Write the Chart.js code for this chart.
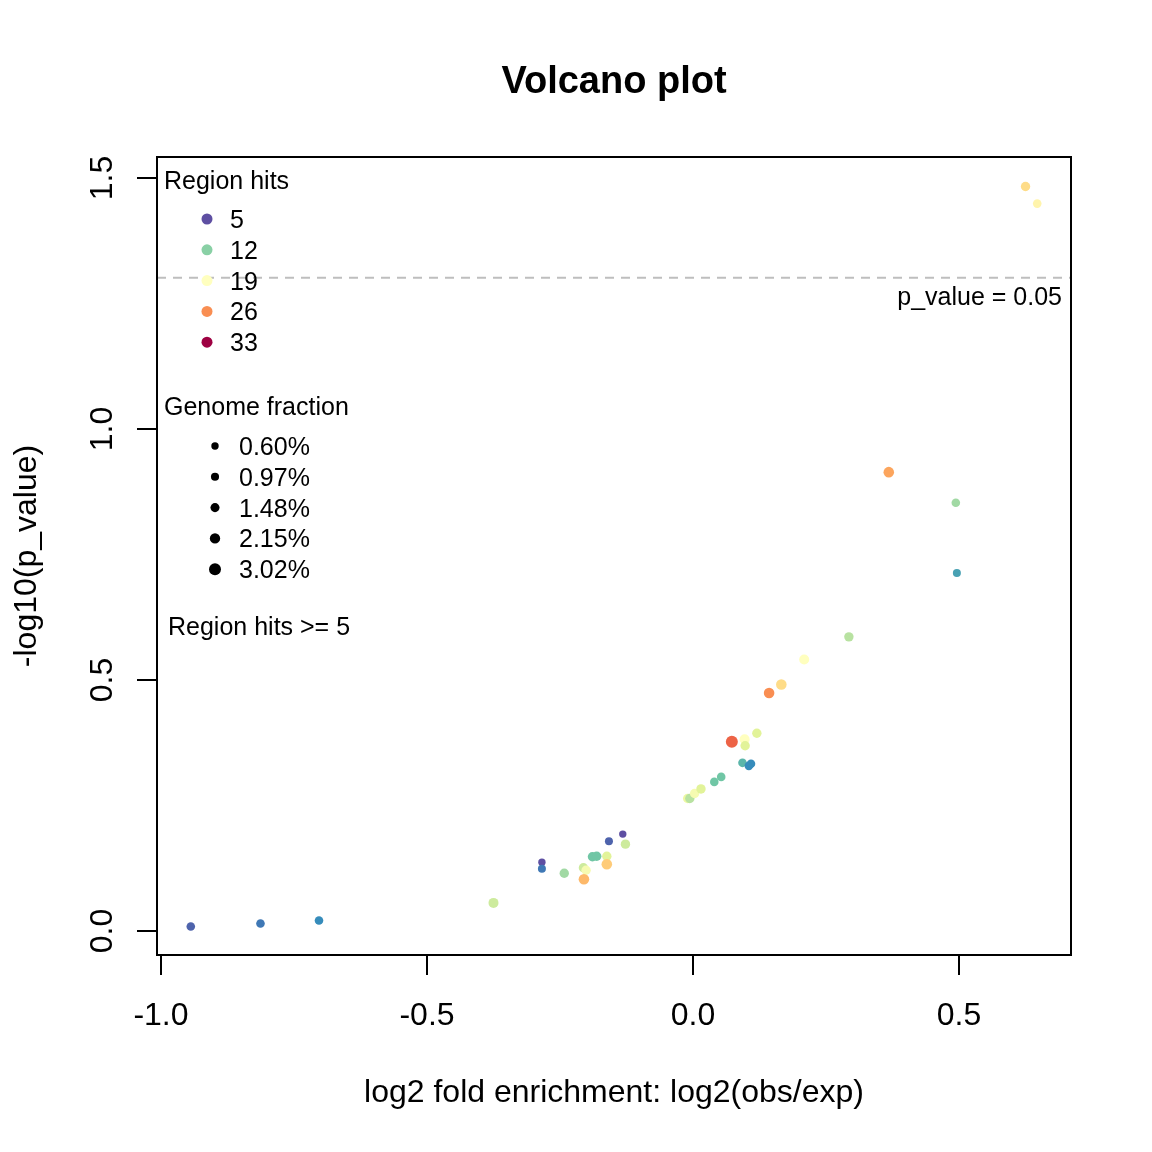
<!DOCTYPE html>
<html>
<head>
<meta charset="utf-8">
<script src="https://cdn.jsdelivr.net/npm/chart.js@4.4.0/dist/chart.umd.min.js"></script>
<style>
  html, body { margin: 0; padding: 0; background: #fff; }
</style>
</head>
<body>
<canvas id="myChart" width="1152" height="1152"></canvas>
<script>
// datos
var foldEnrichment = [-0.944, -0.813, -0.703, -0.375, -0.284, -0.284, -0.242, -0.206, -0.201, -0.205,
    -0.189, -0.181, -0.162, -0.162, -0.158, -0.132, -0.127, -0.010, -0.006, 0.003,
    0.015, 0.040, 0.053, 0.073, 0.093, 0.097, 0.098, 0.105, 0.109, 0.120,
    0.143, 0.166, 0.209, 0.293, 0.368, 0.494, 0.496, 0.625, 0.647];
var negLogP = [0.009, 0.015, 0.021, 0.056, 0.137, 0.124, 0.115, 0.126, 0.121, 0.103,
    0.148, 0.149, 0.149, 0.133, 0.179, 0.193, 0.173, 0.264, 0.264, 0.274,
    0.283, 0.297, 0.307, 0.377, 0.335, 0.382, 0.369, 0.329, 0.333, 0.394,
    0.474, 0.491, 0.541, 0.586, 0.914, 0.853, 0.713, 1.483, 1.449];
var regionHits = [6, 7, 8, 15, 5, 7, 13, 15, 18, 24,
    11, 11, 16, 23, 6, 5, 15, 17, 14, 18,
    16, 11, 11, 28, 10, 19, 16, 8, 8, 16,
    26, 22, 19, 14, 25, 13, 9, 22, 20];
var genomeFraction = [1.23, 1.23, 1.23, 1.97, 0.60, 0.92, 1.65, 1.65, 1.65, 2.28,
    1.65, 1.65, 1.65, 2.28, 0.92, 0.60, 1.65, 1.65, 1.65, 1.65,
    1.65, 1.23, 1.23, 3.02, 1.23, 1.97, 1.65, 1.23, 1.23, 1.65,
    2.28, 2.28, 1.97, 1.65, 2.28, 1.23, 0.92, 1.65, 1.23];

var xTicks = [-1.0, -0.5, 0.0, 0.5];
var yTicks = [0.0, 0.5, 1.0, 1.5];
var hitsLegend = [5, 12, 19, 26, 33];
var fractionLegend = [0.60, 0.97, 1.48, 2.15, 3.02];
var pThreshold = 0.05;

var FONT = '"Liberation Sans", Arial, Helvetica, sans-serif';

// paleta Spectral invertida
var spectral = ['#5E4FA2', '#3288BD', '#66C2A5', '#ABDDA4', '#E6F598', '#FFFFBF',
    '#FEE08B', '#FDAE61', '#F46D43', '#D53E4F', '#9E0142'];

function hexToRgb(h) {
    return [parseInt(h.substr(1, 2), 16), parseInt(h.substr(3, 2), 16), parseInt(h.substr(5, 2), 16)];
}

function colorHits(h) {
    var t = (h - 5) / (33 - 5);
    t = Math.max(0, Math.min(1, t));
    var pos = t * (spectral.length - 1);
    var i = Math.min(Math.floor(pos), spectral.length - 2);
    var f = pos - i;
    var a = hexToRgb(spectral[i]), b = hexToRgb(spectral[i + 1]);
    var c = a.map(function (v, k) { return Math.round(v + (b[k] - v) * f); });
    return 'rgb(' + c[0] + ',' + c[1] + ',' + c[2] + ')';
}

function radiusFraction(f) {
    return 3.13 + 0.95 * f;
}

var puntos = foldEnrichment.map(function (x, i) { return { x: x, y: negLogP[i] }; });

var dibujoR = {
    id: 'dibujoR',
    beforeDatasetsDraw: function (chart) {
        var ctx = chart.ctx, a = chart.chartArea, ys = chart.scales.y;
        var yl = ys.getPixelForValue(-Math.log10(pThreshold));
        ctx.save();
        ctx.strokeStyle = '#BEBEBE';
        ctx.lineWidth = 2;
        ctx.setLineDash([9, 7]);
        ctx.beginPath();
        ctx.moveTo(a.left, yl);
        ctx.lineTo(a.right, yl);
        ctx.stroke();
        ctx.restore();
    },
    afterDraw: function (chart) {
        var ctx = chart.ctx, a = chart.chartArea;
        var xs = chart.scales.x, ys = chart.scales.y;
        ctx.save();
        ctx.fillStyle = '#000';
        ctx.strokeStyle = '#000';
        ctx.lineWidth = 2;
        ctx.strokeRect(a.left, a.top, a.right - a.left, a.bottom - a.top);

        // eje x
        ctx.font = '32px ' + FONT;
        ctx.textAlign = 'center';
        ctx.textBaseline = 'alphabetic';
        xTicks.forEach(function (v) {
            var px = xs.getPixelForValue(v);
            ctx.beginPath();
            ctx.moveTo(px, a.bottom);
            ctx.lineTo(px, a.bottom + 20);
            ctx.stroke();
            ctx.fillText(v.toFixed(1), px, 1025);
        });
        // eje y
        yTicks.forEach(function (v) {
            var py = ys.getPixelForValue(v);
            ctx.beginPath();
            ctx.moveTo(a.left, py);
            ctx.lineTo(a.left - 20, py);
            ctx.stroke();
            ctx.save();
            ctx.translate(112, py);
            ctx.rotate(-Math.PI / 2);
            ctx.fillText(v.toFixed(1), 0, 0);
            ctx.restore();
        });

        // titulos
        ctx.fillText('log2 fold enrichment: log2(obs/exp)', (a.left + a.right) / 2, 1102);
        ctx.save();
        ctx.translate(36, (a.top + a.bottom) / 2);
        ctx.rotate(-Math.PI / 2);
        ctx.fillText('-log10(p_value)', 0, 0);
        ctx.restore();
        ctx.font = 'bold 38px ' + FONT;
        ctx.fillText('Volcano plot', (a.left + a.right) / 2, 93);

        // texto del umbral
        ctx.font = '25px ' + FONT;
        ctx.textAlign = 'right';
        ctx.fillText('p_value = ' + pThreshold.toFixed(2), 1062, 305);

        // leyendas
        ctx.textAlign = 'left';
        ctx.fillText('Region hits', 164, 189);
        hitsLegend.forEach(function (h, i) {
            var y = 219 + i * 30.8;
            ctx.fillStyle = colorHits(h);
            ctx.beginPath();
            ctx.arc(207, y, 5.5, 0, Math.PI * 2);
            ctx.fill();
            ctx.fillStyle = '#000';
            ctx.fillText(String(h), 230, y + 9);
        });
        ctx.fillText('Genome fraction', 164, 415);
        fractionLegend.forEach(function (f, i) {
            var y = 446 + i * 30.8;
            ctx.beginPath();
            ctx.arc(215, y, radiusFraction(f), 0, Math.PI * 2);
            ctx.fill();
            ctx.fillText(f.toFixed(2) + '%', 239, y + 9);
        });
        ctx.fillText('Region hits >= 5', 168, 635);
        ctx.restore();
    }
};

var ctx = document.getElementById('myChart').getContext('2d');
var myChart = new Chart(ctx, {
    type: 'scatter',
    data: {
        datasets: [{
            label: 'Region hits',
            data: puntos,
            pointBackgroundColor: regionHits.map(colorHits),
            pointBorderWidth: 0,
            pointBorderColor: 'rgba(0,0,0,0)',
            pointRadius: genomeFraction.map(radiusFraction),
            pointHoverRadius: genomeFraction.map(radiusFraction)
        }]
    },
    options: {
        responsive: false,
        devicePixelRatio: 1,
        animation: false,
        layout: { padding: { left: 157, right: 81, top: 157, bottom: 197 } },
        scales: {
            x: { type: 'linear', min: -1.0075, max: 0.7105, display: false },
            y: { type: 'linear', min: -0.0478, max: 1.5418, display: false }
        },
        plugins: {
            legend: { display: false },
            tooltip: { enabled: false }
        }
    },
    plugins: [dibujoR]
});
</script>
</body>
</html>
